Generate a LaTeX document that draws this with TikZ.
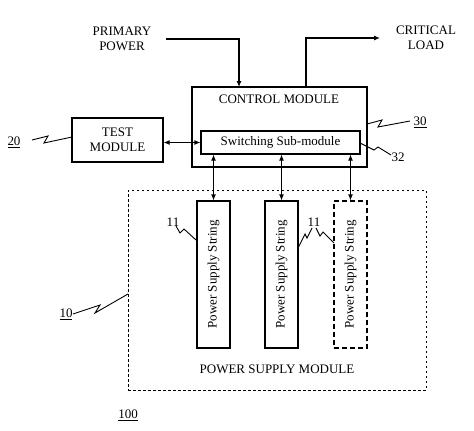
\documentclass[tikz,border=0pt]{standalone}
\usepackage{fontspec}
\setmainfont{Liberation Serif}
\usetikzlibrary{arrows.meta}
\begin{document}
\begin{tikzpicture}[x=1pt,y=-1pt,
  every node/.style={font=\fontsize{13}{15}\selectfont},
  box/.style={draw,line width=1.1pt,inner sep=0pt},
  conn/.style={line width=1.1pt},
  tip/.style={-{Latex[length=6pt,width=5pt]}},
  dtip/.style={{Latex[length=6pt,width=5pt]}-{Latex[length=6pt,width=5pt]}},
  lead/.style={line width=0.9pt},
  lbl/.style={inner sep=1pt}]
\useasboundingbox (0,0) rectangle (474,431);
% boxes
\node[box,minimum width=175pt,minimum height=80pt] (ctrl) at (279.5,127) {};
\node at (279,99) (ctrltxt) {CONTROL MODULE};
\node[box,minimum width=159pt,minimum height=23pt] (sw) at (280.5,142.5) {Switching Sub-module};
\node[box,minimum width=91pt,minimum height=44pt,align=center] (test) at (117.5,140) {TEST\\MODULE};
\node[draw,line width=1pt,dash pattern=on 2.5pt off 2.5pt,minimum width=298pt,minimum height=200pt] (psm) at (277,290) {};
\node (psmtxt) at (277,369) {POWER SUPPLY MODULE};
\node[box,minimum width=33pt,minimum height=147pt] (s1) at (213.5,274.5) {};
\node[box,minimum width=33pt,minimum height=147pt] (s2) at (281.5,274.5) {};
\node[box,dash pattern=on 5pt off 3pt,minimum width=33pt,minimum height=147pt] (s3) at (350.5,274.5) {};
\node[rotate=90] (t1) at (s1) {Power Supply String};
\node[rotate=90] (t2) at (s2) {Power Supply String};
\node[rotate=90] (t3) at (s3) {Power Supply String};
% external texts
\node[align=center] (pp) at (122,39) {PRIMARY\\POWER};
\node[align=center] (cl) at (426,38) {CRITICAL\\LOAD};
% connectors
\coordinate (ppin) at (166,39);
\coordinate (ppbend) at (239,39);
\coordinate (ppend) at (239,87);
\draw[conn,tip] (ppin) -- (ppbend) -- (ppend);
\coordinate (clstart) at (306,87);
\coordinate (clbend) at (306,38);
\coordinate (clend) at (380,38);
\draw[conn,tip] (clstart) -- (clbend) -- (clend);
\draw[conn,dtip] (test.east |- sw.west) -- (sw.west);
\draw[conn,dtip] (s1.north |- sw.south) -- (s1.north);
\draw[conn,dtip] (s2.north |- sw.south) -- (s2.north);
\draw[conn,dtip] (s3.north |- sw.south) -- (s3.north);
% reference labels
\node[lbl] (l20) at (14,142) {\underline{20}};
\node[lbl] (l30) at (420,122) {\underline{30}};
\node[lbl] (l32) at (398,157) {32};
\node[lbl] (l11a) at (173,222) {11};
\node[lbl] (l11b) at (314,222) {11};
\node[lbl] (l10) at (66,314) {\underline{10}};
\node[lbl] (l100) at (128,415) {\underline{100}};
% leader lines
\coordinate (e20) at (72,137);
\draw[lead] (32,140) -- (48,136) -- (44,143) -- (e20);
\coordinate (e30) at (367,124);
\draw[lead] (e30) -- (382,120) -- (378,127) -- (410,121);
\coordinate (e32) at (360,143);
\draw[lead] (e32) -- (374,150) -- (378,147) -- (391,155);
\coordinate (e11a) at (196,240);
\draw[lead] (176,226) -- (180,233) -- (184,229) -- (e11a);
\coordinate (e11b) at (298,248);
\coordinate (e11c) at (334,243);
\draw[lead] (312,228) -- (307,238) -- (305,234) -- (e11b);
\draw[lead] (316,228) -- (320,236) -- (323,232) -- (e11c);
\coordinate (e10) at (128,294);
\draw[lead] (73,314) -- (100,305) -- (95,313) -- (e10);
\end{tikzpicture}
\end{document}
